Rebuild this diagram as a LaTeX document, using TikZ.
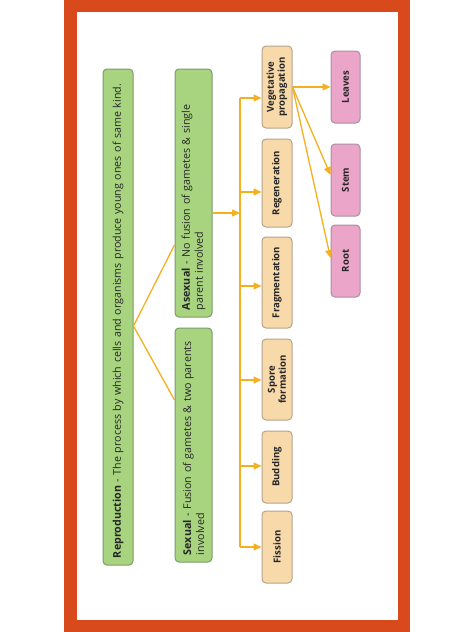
\documentclass[tikz,border=0pt]{standalone}
\usepackage{fontspec}
\setmainfont{Open Sans}
\usetikzlibrary{arrows.meta,calc}
\definecolor{frame}{HTML}{D84A1B}
\definecolor{gfill}{HTML}{A8D480}
\definecolor{gline}{HTML}{7C9A6C}
\definecolor{ofill}{HTML}{F8D9AA}
\definecolor{oline}{HTML}{B5A48C}
\definecolor{pfill}{HTML}{EBA5C9}
\definecolor{pline}{HTML}{A890A0}
\definecolor{amber}{HTML}{F5B020}
\definecolor{txt}{HTML}{262626}
\begin{document}
\begin{tikzpicture}[x=1pt,y=-1pt,
 box/.style={rotate=90, draw, line width=1pt, rounded corners=4pt, inner sep=0pt, text=txt},
 gbox/.style={box, fill=gfill, draw=gline, font=\fontsize{10.7}{13}\selectfont, align=left},
 obox/.style={box, fill=ofill, draw=oline, font=\fontsize{9.6}{11}\selectfont\bfseries, align=center, minimum height=30pt},
 pbox/.style={box, fill=pfill, draw=pline, font=\fontsize{9.6}{11}\selectfont\bfseries, minimum height=29pt, minimum width=72pt},
 link/.style={amber, line width=1.3pt},
 arr/.style={link, -{Triangle[length=8pt,width=7pt]}}]

\useasboundingbox (0,0) rectangle (474,632);
\fill[frame] (64,0) rectangle (410,632);
\fill[white] (77,12) rectangle (398,620);

\node[gbox, minimum width=496pt, minimum height=30pt, text width=482pt] (repro) at (118,317)
  {\textbf{Reproduction} - The process by which cells and organisms produce young ones of same kind.};
\node[gbox, minimum width=248pt, minimum height=37pt, text width=234pt] (asex) at (193.5,193)
  {\textbf{Asexual} - No fusion of gametes \& single\\parent involved};
\node[gbox, minimum width=234pt, minimum height=37pt, text width=220pt] (sex) at (193.5,445)
  {\textbf{Sexual} - Fusion of gametes \& two parents\\involved};

\node[obox, minimum width=82pt] (veg) at (277,87) {Vegetative\\propagation};
\node[obox, minimum width=88pt] (regen) at (277,183) {Regeneration};
\node[obox, minimum width=91pt] (frag) at (277,282.5) {Fragmentation};
\node[obox, minimum width=81pt] (spore) at (277,379.5) {Spore\\formation};
\node[obox, minimum width=72pt] (bud) at (277,467) {Budding};
\node[obox, minimum width=72pt] (fis) at (277,547) {Fission};

\node[pbox] (leaves) at (345.5,87) {Leaves};
\node[pbox] (stem) at (345.5,180) {Stem};
\node[pbox] (root) at (345.5,261) {Root};

\coordinate (b1) at (240,98);
\coordinate (b2) at (240,192);
\coordinate (b3) at (240,286);
\coordinate (b4) at (240,380);
\coordinate (b5) at (240,466);
\coordinate (b6) at (240,547);
\coordinate (ain) at (240,213);
\coordinate (rs) at ($(repro.south)+(0,9)$);

\draw[link] (rs) -- ($(asex.north)+(0,52)$);
\draw[link] (rs) -- ($(sex.north)+(0,-45)$);
\draw[arr] (ain -| asex.south) -- (ain);
\draw[link] (b1) -- (b6);
\draw[arr] (b1) -- (b1 -| veg.north);
\draw[arr] (b2) -- (b2 -| regen.north);
\draw[arr] (b3) -- (b3 -| frag.north);
\draw[arr] (b4) -- (b4 -| spore.north);
\draw[arr] (b5) -- (b5 -| bud.north);
\draw[arr] (b6) -- (b6 -| fis.north);

\draw[arr] (veg.south) -- (leaves.north);
\draw[arr] (veg.south) -- ($(stem.north)+(0,-5)$);
\draw[arr] (veg.south) -- ($(root.north)+(0,-3)$);
\end{tikzpicture}
\end{document}
